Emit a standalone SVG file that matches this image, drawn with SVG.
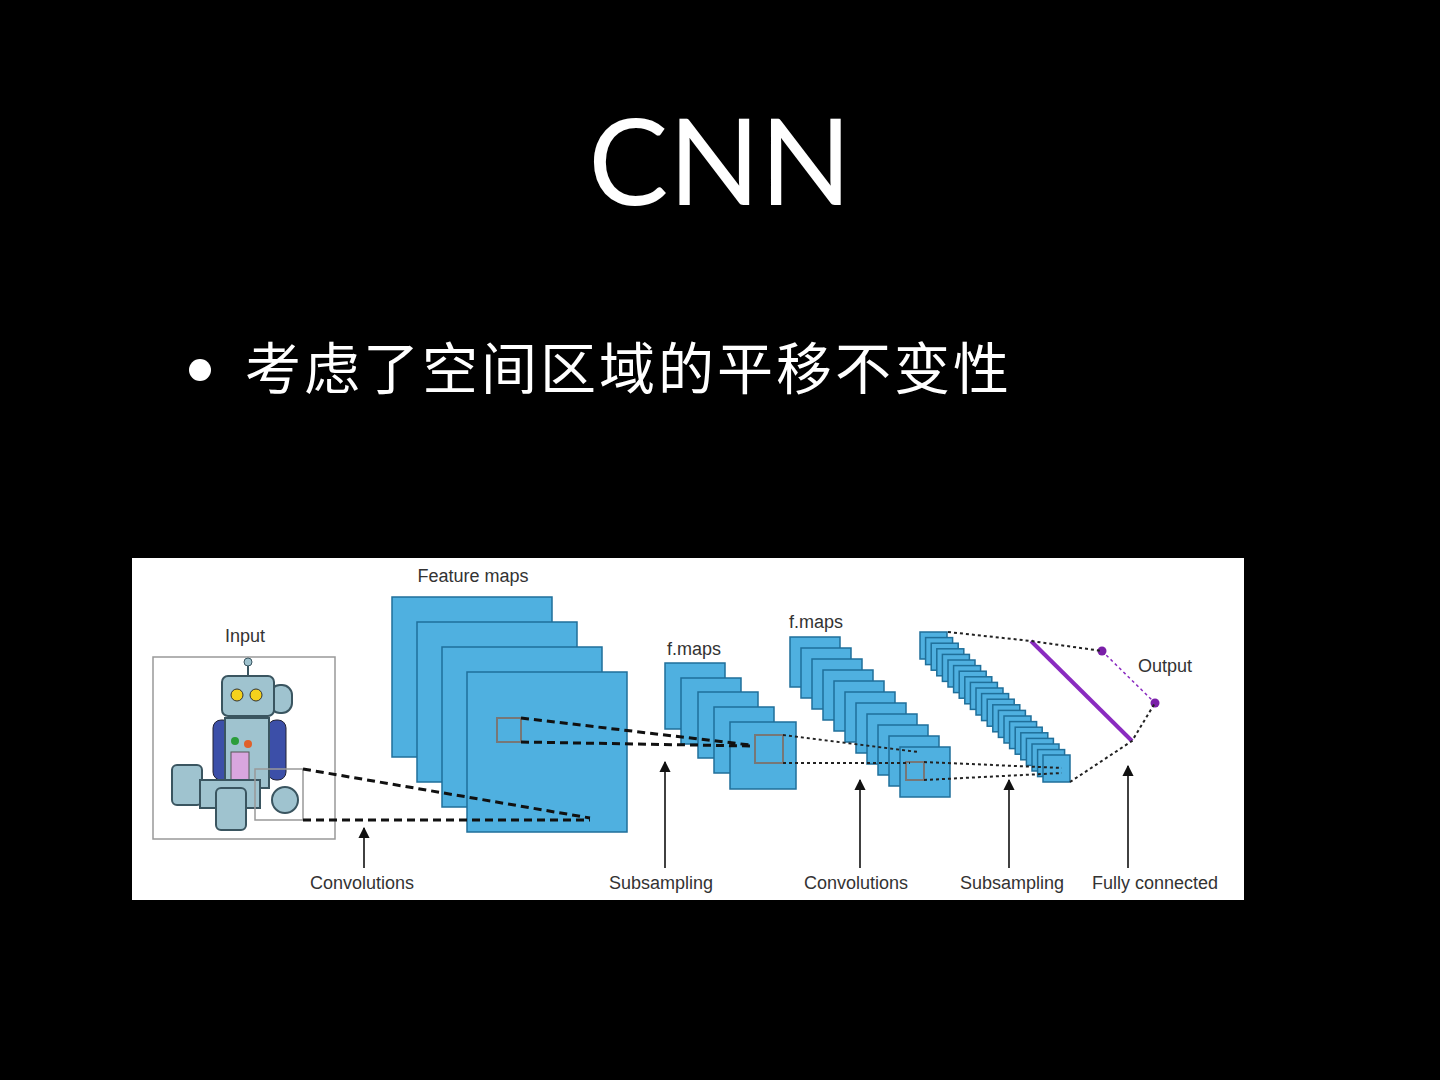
<svg xmlns="http://www.w3.org/2000/svg" width="1440" height="1080" viewBox="0 0 1440 1080">
<defs>
<style>
.fm{fill:#4fb0e0;stroke:#1f6f9a;stroke-width:1.5}
.lb{font-family:"Liberation Sans",Arial,sans-serif;font-size:18px;fill:#333;text-anchor:middle}
.d1{stroke:#111;stroke-width:3;stroke-dasharray:8 5;fill:none}
.d2{stroke:#222;stroke-width:2;stroke-dasharray:3 3;fill:none}
.ar{stroke:#111;stroke-width:1.6;marker-end:url(#ah)}
.rb{fill:#9fc3cf;stroke:#3a5560;stroke-width:2}
</style>
<marker id="ah" viewBox="0 0 10 10" refX="9" refY="5" markerWidth="7" markerHeight="7" orient="auto"><path d="M0,0L10,5L0,10z" fill="#111"/></marker>
</defs>
<rect width="1440" height="1080" fill="#000"/>
<text x="720" y="205" font-family="Lato,'Open Sans',sans-serif" font-size="120" fill="#fff" text-anchor="middle">CNN</text>
<circle cx="200" cy="370" r="11" fill="#fff"/>
<text x="245" y="389" font-family="'Noto Sans CJK SC',sans-serif" font-size="56" letter-spacing="3" fill="#fff">考虑了空间区域的平移不变性</text>
<rect x="132" y="558" width="1112" height="342" fill="#fff"/>
<g id="input">
<rect x="153" y="657" width="182" height="182" fill="#fff" stroke="#999" stroke-width="1.5"/>
<line x1="248" y1="662" x2="248" y2="676" stroke="#3a5560" stroke-width="2"/>
<circle cx="248" cy="662" r="4" fill="#9fc3cf" stroke="#3a5560"/>
<rect class="rb" x="270" y="685" width="22" height="28" rx="10"/>
<rect class="rb" x="222" y="676" width="52" height="40" rx="6"/>
<circle cx="237" cy="695" r="6" fill="#f4d21c" stroke="#333"/>
<circle cx="256" cy="695" r="6" fill="#f4d21c" stroke="#333"/>
<rect x="213" y="720" width="18" height="60" rx="8" fill="#3c4fa8" stroke="#223"/>
<rect x="268" y="720" width="18" height="60" rx="8" fill="#3c4fa8" stroke="#223"/>
<rect class="rb" x="225" y="718" width="44" height="70"/>
<circle cx="235" cy="741" r="4" fill="#2a9d3a"/>
<circle cx="248" cy="744" r="4" fill="#e0602a"/>
<rect x="231" y="752" width="18" height="28" fill="#d9a6df" stroke="#555"/>
<rect class="rb" x="172" y="765" width="30" height="40" rx="5"/>
<rect class="rb" x="200" y="780" width="60" height="28"/>
<rect class="rb" x="216" y="788" width="30" height="42" rx="5"/>
<circle class="rb" cx="285" cy="800" r="13"/>
<rect x="255" y="769" width="48" height="51" fill="none" stroke="#999" stroke-width="1.5"/>
</g>
<g id="feature-maps">
<rect class="fm" x="392" y="597" width="160" height="160"/>
<rect class="fm" x="417" y="622" width="160" height="160"/>
<rect class="fm" x="442" y="647" width="160" height="160"/>
<rect class="fm" x="467" y="672" width="160" height="160"/>
<rect x="497" y="718" width="24" height="24" fill="none" stroke="#777" stroke-width="2"/>
</g>
<g id="fmaps1">
<rect class="fm" x="665" y="663" width="60" height="66"/>
<rect class="fm" x="681" y="678" width="60" height="66"/>
<rect class="fm" x="698" y="692" width="60" height="66"/>
<rect class="fm" x="714" y="707" width="60" height="66"/>
<rect class="fm" x="730" y="722" width="66" height="67"/>
<rect x="755" y="735" width="28" height="28" fill="none" stroke="#777" stroke-width="2"/>
</g>
<g id="fmaps2">
<rect class="fm" x="790" y="637" width="50" height="50"/>
<rect class="fm" x="801" y="648" width="50" height="50"/>
<rect class="fm" x="812" y="659" width="50" height="50"/>
<rect class="fm" x="823" y="670" width="50" height="50"/>
<rect class="fm" x="834" y="681" width="50" height="50"/>
<rect class="fm" x="845" y="692" width="50" height="50"/>
<rect class="fm" x="856" y="703" width="50" height="50"/>
<rect class="fm" x="867" y="714" width="50" height="50"/>
<rect class="fm" x="878" y="725" width="50" height="50"/>
<rect class="fm" x="889" y="736" width="50" height="50"/>
<rect class="fm" x="900" y="747" width="50" height="50"/>
<rect x="906" y="762" width="18" height="18" fill="none" stroke="#777" stroke-width="2"/>
</g>
<g id="subsample2">
<rect class="fm" x="920" y="632" width="27" height="27"/>
<rect class="fm" x="925.6" y="637.6" width="27" height="27"/>
<rect class="fm" x="931.2" y="643.2" width="27" height="27"/>
<rect class="fm" x="936.8" y="648.8" width="27" height="27"/>
<rect class="fm" x="942.4" y="654.4" width="27" height="27"/>
<rect class="fm" x="948" y="660" width="27" height="27"/>
<rect class="fm" x="953.6" y="665.6" width="27" height="27"/>
<rect class="fm" x="959.2" y="671.2" width="27" height="27"/>
<rect class="fm" x="964.8" y="676.8" width="27" height="27"/>
<rect class="fm" x="970.4" y="682.4" width="27" height="27"/>
<rect class="fm" x="976" y="688" width="27" height="27"/>
<rect class="fm" x="981.6" y="693.6" width="27" height="27"/>
<rect class="fm" x="987.2" y="699.2" width="27" height="27"/>
<rect class="fm" x="992.8" y="704.8" width="27" height="27"/>
<rect class="fm" x="998.4" y="710.4" width="27" height="27"/>
<rect class="fm" x="1004" y="716" width="27" height="27"/>
<rect class="fm" x="1009.6" y="721.6" width="27" height="27"/>
<rect class="fm" x="1015.2" y="727.2" width="27" height="27"/>
<rect class="fm" x="1020.8" y="732.8" width="27" height="27"/>
<rect class="fm" x="1026.4" y="738.4" width="27" height="27"/>
<rect class="fm" x="1032" y="744" width="27" height="27"/>
<rect class="fm" x="1037.6" y="749.6" width="27" height="27"/>
<rect class="fm" x="1043" y="755" width="27" height="27"/>
</g>
<g id="output">
<line x1="1031" y1="641" x2="1132" y2="741" stroke="#8a2bc0" stroke-width="4"/>
<line x1="1102" y1="651" x2="1155" y2="703" stroke="#8a2bc0" stroke-width="1.5" stroke-dasharray="3 3"/>
<circle cx="1102" cy="651" r="4.5" fill="#7a1fa8"/>
<circle cx="1155" cy="703" r="4.5" fill="#7a1fa8"/>
</g>
<g id="connectors">
<path class="d1" d="M303,769L590,818M303,820L590,820"/>
<path class="d1" d="M521,718L750,745M521,742L750,746"/>
<path class="d2" d="M783,735L918,752M783,763L910,763"/>
<path class="d2" d="M924,762L1062,768M924,780L1062,773"/>
<path class="d2" d="M948,632L1031,641L1102,651M1070,782L1132,741L1155,703"/>
<line class="ar" x1="364" y1="868" x2="364" y2="828"/>
<line class="ar" x1="665" y1="868" x2="665" y2="762"/>
<line class="ar" x1="860" y1="868" x2="860" y2="780"/>
<line class="ar" x1="1009" y1="868" x2="1009" y2="780"/>
<line class="ar" x1="1128" y1="868" x2="1128" y2="766"/>
</g>
<g id="labels">
<text class="lb" x="245" y="642">Input</text>
<text class="lb" x="473" y="582">Feature maps</text>
<text class="lb" x="694" y="655">f.maps</text>
<text class="lb" x="816" y="628">f.maps</text>
<text class="lb" x="1165" y="672">Output</text>
<text class="lb" x="362" y="889">Convolutions</text>
<text class="lb" x="661" y="889">Subsampling</text>
<text class="lb" x="856" y="889">Convolutions</text>
<text class="lb" x="1012" y="889">Subsampling</text>
<text class="lb" x="1155" y="889">Fully connected</text>
</g>
</svg>
